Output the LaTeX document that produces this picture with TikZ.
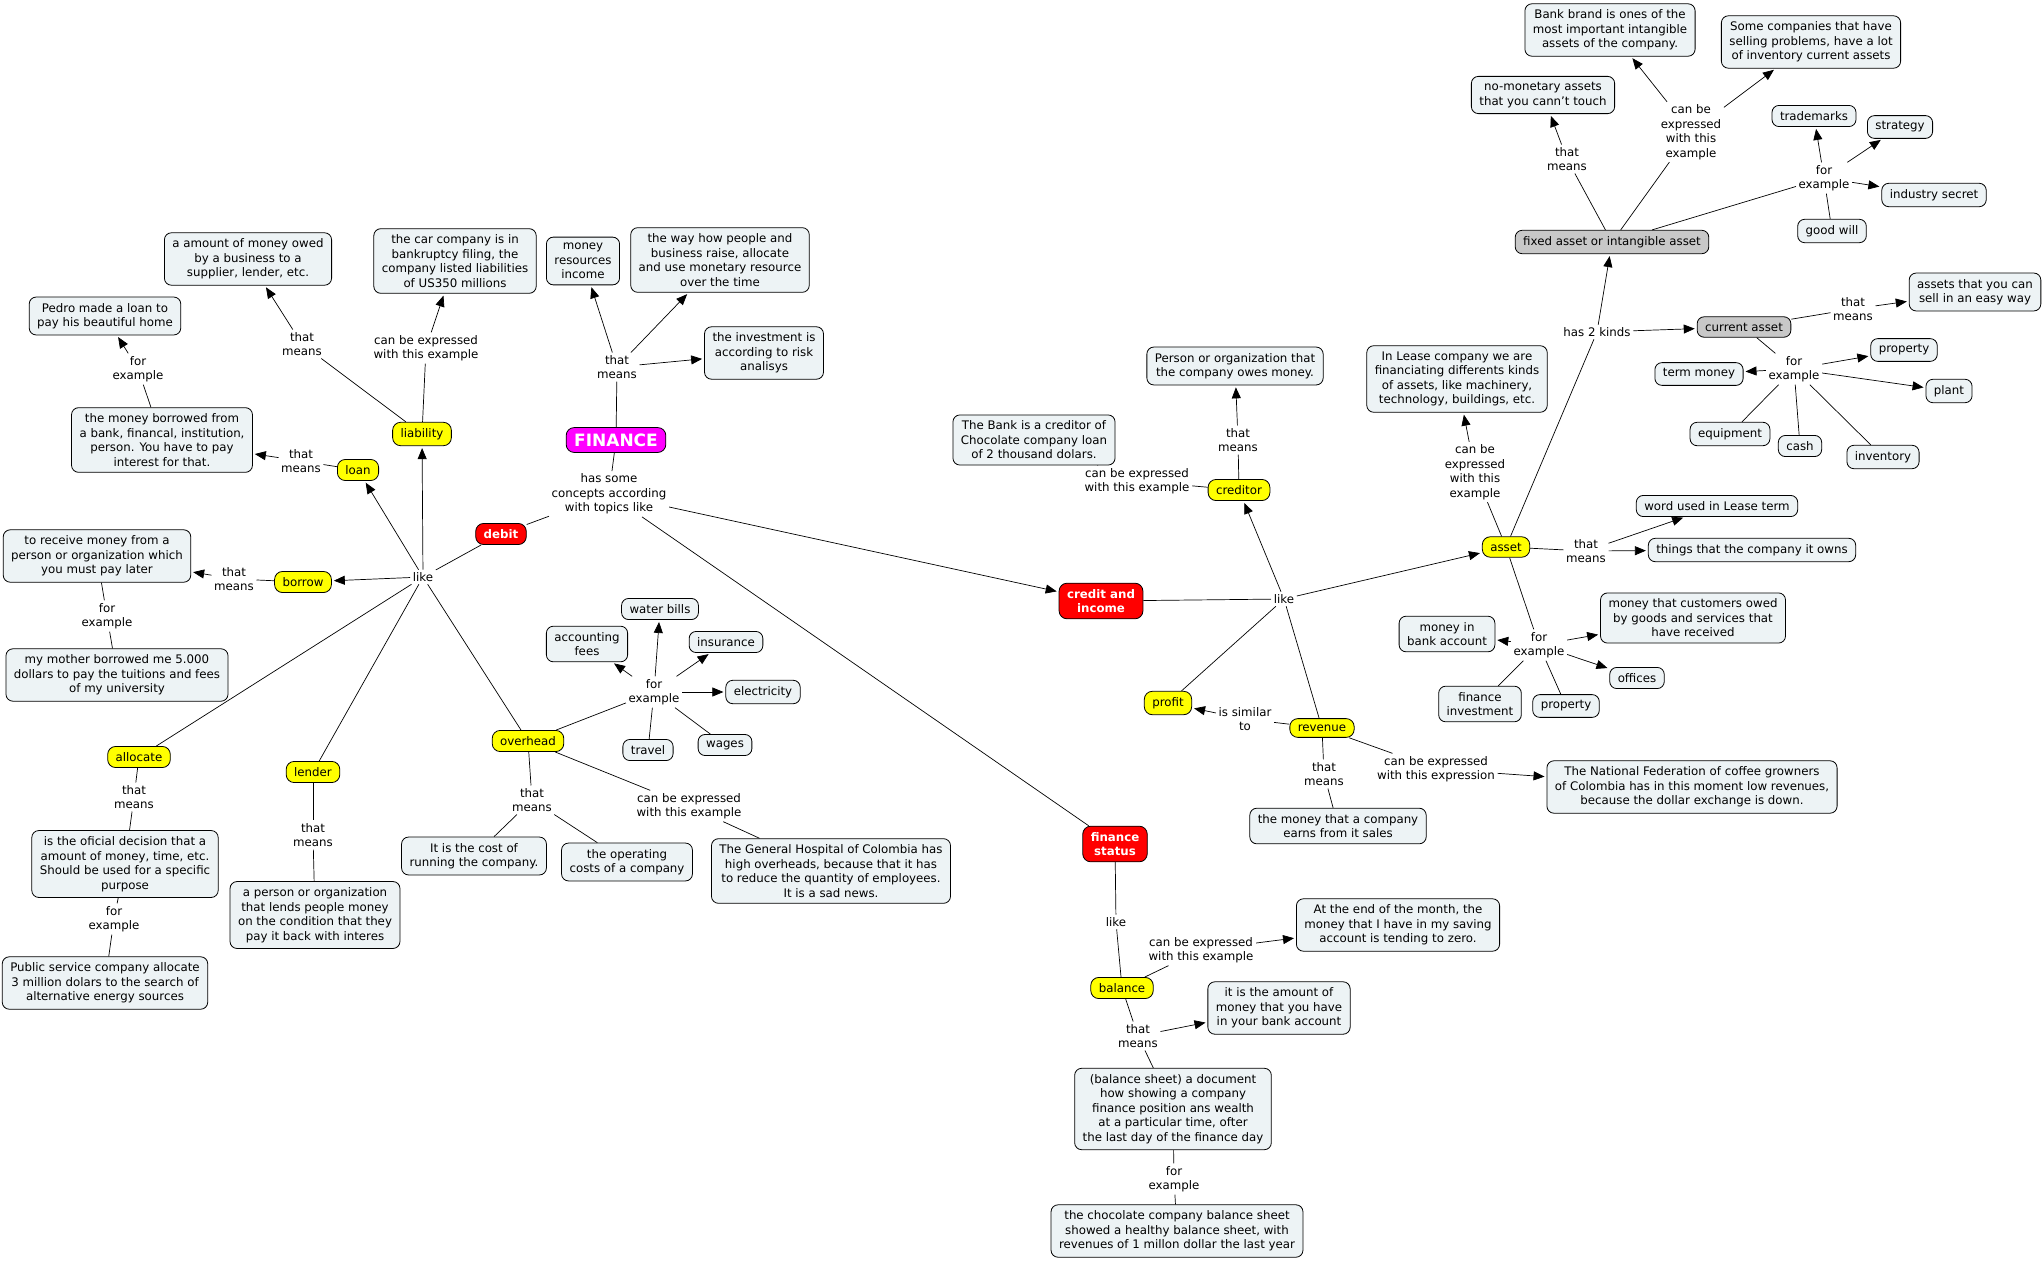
\documentclass[tikz,border=0pt]{standalone}
\usepackage{fontspec}
\setmainfont{DejaVu Sans}
\usetikzlibrary{arrows.meta}
\definecolor{BoxClr}{RGB}{237,243,245}
\definecolor{TopicClr}{RGB}{255,255,0}
\definecolor{MainClr}{RGB}{255,0,0}
\definecolor{RootClr}{RGB}{255,0,255}
\definecolor{KindClr}{RGB}{200,200,200}

\begin{document}
\begin{tikzpicture}[x=1pt,y=-1pt,
  every node/.style={font=\fontsize{11.8}{14.5}\selectfont},
  concept/.style={draw,line width=0.8pt,rounded corners=7pt,fill=BoxClr,align=center,inner xsep=8pt,inner ysep=6pt},
  topic/.style={concept,fill=TopicClr,rounded corners=8pt},
  kind/.style={concept,fill=KindClr},
  mainc/.style={concept,fill=MainClr,text=white,rounded corners=8pt,font=\fontsize{11.8}{14.5}\selectfont\bfseries},
  root/.style={concept,fill=RootClr,text=white,rounded corners=8pt,font=\fontsize{17}{20}\selectfont\bfseries},
  lnk/.style={inner sep=2.5pt,align=center},
  link/.style={line width=0.7pt},
  linkarr/.style={link,-{Triangle[length=11pt,width=9pt]},shorten >=2pt}]
\useasboundingbox (0,0) rectangle (2043,1263);

% finance
\node[root] (finance) at (616,440) {FINANCE};
\node[lnk] (tmFin) at (617,367) {that\\means};
\node[concept] (moneyres) at (583,261) {money\\resources\\income};
\node[concept] (wayhow) at (720,260) {the way how people and\\business raise, allocate\\and use monetary resource\\over the time};
\node[concept] (investment) at (764,353) {the investment is\\according to risk\\analisys};
\node[lnk] (hassome) at (609,494) {has some\\concepts according\\with topics like};

% debit
\node[mainc] (debit) at (501,534) {debit};
\node[lnk] (likeL) at (423,577) {like};
\node[topic] (liability) at (422,434) {liability};
\node[lnk] (tmLiab) at (302,344) {that\\means};
\node[concept] (amount1) at (248,259) {a amount of money owed\\by a business to a\\supplier, lender, etc.};
\node[lnk] (cbeLiab) at (426,348) {can be expressed\\with this example};
\node[concept] (car) at (455,261) {the car company is in\\bankruptcy filing, the\\company listed liabilities\\of US350 millions};
\node[topic] (loan) at (358,470) {loan};
\node[lnk] (tmLoan) at (301,461) {that\\means};
\node[concept] (borrowed) at (162,440) {the money borrowed from\\a bank, financal, institution,\\person. You have to pay\\interest for that.};
\node[lnk] (feBorrowed) at (138,369) {for\\example};
\node[concept] (pedro) at (105,316) {Pedro made a loan to\\pay his beautiful home};
\node[topic] (borrow) at (303,582) {borrow};
\node[lnk] (tmBorrow) at (234,579) {that\\means};
\node[concept] (receive) at (97,556) {to receive money from a\\person or organization which\\you must pay later};
\node[lnk] (feReceive) at (107,616) {for\\example};
\node[concept] (mother) at (117,675) {my mother borrowed me 5.000\\dollars to pay the tuitions and fees\\of my university};
\node[topic] (allocate) at (139,757) {allocate};
\node[lnk] (tmAlloc) at (134,797) {that\\means};
\node[concept] (decision) at (125,864) {is the oficial decision that a\\amount of money, time, etc.\\Should be used for a specific\\purpose};
\node[lnk] (feDecision) at (114,919) {for\\example};
\node[concept] (public) at (105,983) {Public service company allocate\\3 million dolars to the search of\\alternative energy sources};
\node[topic] (lender) at (313,772) {lender};
\node[lnk] (tmLender) at (313,835) {that\\means};
\node[concept] (lends) at (315,915) {a person or organization\\that lends people money\\on the condition that they\\pay it back with interes};
\node[topic] (overhead) at (528,741) {overhead};
\node[lnk] (feOver) at (654,692) {for\\example};
\node[concept] (water) at (660,609) {water bills};
\node[concept] (accounting) at (587,644) {accounting\\fees};
\node[concept] (insurance) at (726,642) {insurance};
\node[concept] (electricity) at (763,692) {electricity};
\node[concept] (travel) at (648,750) {travel};
\node[concept] (wages) at (725,745) {wages};
\node[lnk] (tmOver) at (532,800) {that\\means};
\node[concept] (cost) at (474,856) {It is the cost of\\running the company.};
\node[concept] (operating) at (627,862) {the operating\\costs of a company};
\node[lnk] (cbeOver) at (689,806) {can be expressed\\with this example};
\node[concept] (hospital) at (831,871) {The General Hospital of Colombia has\\high overheads,  because that it  has\\to reduce the quantity of employees.\\It is a sad news.};

% credit and income
\node[mainc] (credit) at (1101,601) {credit and\\income};
\node[lnk] (likeC) at (1284,599) {like};
\node[topic] (creditor) at (1239,490) {creditor};
\node[lnk] (tmCred) at (1238,440) {that\\means};
\node[concept] (owes) at (1235,366) {Person or organization that\\the company owes money.};
\node[lnk] (cbeCred) at (1137,481) {can be expressed\\with this example};
\node[concept] (bankcred) at (1034,440) {The Bank is a creditor of\\Chocolate company loan\\of 2 thousand dolars.};
\node[topic] (profit) at (1168,703) {profit};
\node[topic] (revenue) at (1322,728) {revenue};
\node[lnk] (similar) at (1245,719) {is similar\\to};
\node[lnk] (tmRev) at (1324,774) {that\\means};
\node[concept] (earns) at (1338,826) {the money that a company\\earns from it sales};
\node[lnk] (cbeRev) at (1436,769) {can be expressed\\with this expression};
\node[concept] (national) at (1692,787) {The National Federation of coffee growners\\of Colombia has in this moment low revenues,\\because the dollar exchange is down.};
\node[topic] (asset) at (1506,547) {asset};
\node[lnk] (cbeAsset) at (1475,472) {can be\\expressed\\with this\\example};
\node[concept] (lease) at (1457,379) {In Lease company we are\\financiating differents kinds\\of assets, like machinery,\\technology, buildings, etc.};
\node[lnk] (tmAsset) at (1586,551) {that\\means};
\node[concept] (word) at (1717,506) {word used in Lease term};
\node[concept] (things) at (1752,550) {things that the company it owns};
\node[lnk] (feAsset) at (1539,645) {for\\example};
\node[concept] (bankacc) at (1447,634) {money in\\bank account};
\node[concept] (customers) at (1693,618) {money that customers owed\\by goods and services that\\have received};
\node[concept] (offices) at (1637,678) {offices};
\node[concept] (fininv) at (1480,704) {finance\\investment};
\node[concept] (propertyA) at (1566,706) {property};
\node[lnk] (has2) at (1597,332) {has 2 kinds};

% kinds of asset
\node[kind] (fixed) at (1612,242) {fixed asset or intangible asset};
\node[lnk] (tmFixed) at (1567,159) {that\\means};
\node[concept] (nomon) at (1543,95) {no-monetary assets\\that you cann't touch};
\node[lnk] (cbeFixed) at (1691,132) {can be\\expressed\\with this\\example};
\node[concept] (brand) at (1610,30) {Bank brand is ones of the\\most important intangible\\assets of the company.};
\node[concept] (selling) at (1811,42) {Some companies that have\\selling problems, have a lot\\of inventory current assets};
\node[lnk] (feFixed) at (1824,178) {for\\example};
\node[concept] (trademarks) at (1814,116) {trademarks};
\node[concept] (strategy) at (1900,127) {strategy};
\node[concept] (secret) at (1934,195) {industry secret};
\node[concept] (goodwill) at (1832,231) {good will};
\node[kind] (current) at (1744,327) {current asset};
\node[lnk] (tmCur) at (1853,309) {that\\means};
\node[concept] (easy) at (1975,292) {assets that you can\\sell in an easy way};
\node[lnk] (feCur) at (1794,369) {for\\example};
\node[concept] (termmoney) at (1699,374) {term money};
\node[concept] (propertyC) at (1904,350) {property};
\node[concept] (plant) at (1949,391) {plant};
\node[concept] (equipment) at (1730,434) {equipment};
\node[concept] (cash) at (1800,446) {cash};
\node[concept] (inventory) at (1883,457) {inventory};

% finance status
\node[mainc] (status) at (1115,844) {finance\\status};
\node[lnk] (likeS) at (1116,922) {like};
\node[topic] (balance) at (1122,988) {balance};
\node[lnk] (cbeBal) at (1201,950) {can be expressed\\with this example};
\node[concept] (endmonth) at (1398,925) {At the end of the month, the\\money that I have in my saving\\account is tending to zero.};
\node[lnk] (tmBal) at (1138,1036) {that\\means};
\node[concept] (amount2) at (1279,1008) {it is the amount of\\money that you have\\in your bank account};
\node[concept] (sheet) at (1173,1109) {(balance sheet) a document\\how showing a company\\finance position ans wealth\\at a particular time, ofter\\the last day of the finance day};
\node[lnk] (feSheet) at (1174,1179) {for\\example};
\node[concept] (chocolate) at (1177,1231) {the chocolate company balance sheet\\showed a healthy balance sheet, with\\revenues of 1 millon dollar the last year};

% connectors
\draw[link] (finance) -- (tmFin);
\foreach \t in {moneyres,wayhow,investment} \draw[linkarr] (tmFin) -- (\t);
\draw[link] (finance) -- (hassome);
\draw[link] (hassome) -- (debit);
\draw[link] (hassome) -- (status);
\draw[linkarr] (hassome) -- (credit);

\draw[link] (debit) -- (likeL);
\foreach \t in {liability,loan,borrow} \draw[linkarr] (likeL) -- (\t);
\foreach \t in {allocate,lender,overhead} \draw[link] (likeL) -- (\t);
\draw[link] (liability) -- (tmLiab);
\draw[linkarr] (tmLiab) -- (amount1);
\draw[link] (liability) -- (cbeLiab);
\draw[linkarr] (cbeLiab) -- (car);
\draw[link] (loan) -- (tmLoan);
\draw[linkarr] (tmLoan) -- (borrowed);
\draw[link] (borrowed) -- (feBorrowed);
\draw[linkarr] (feBorrowed) -- (pedro);
\draw[link] (borrow) -- (tmBorrow);
\draw[linkarr] (tmBorrow) -- (receive);
\draw[link] (receive) -- (feReceive);
\draw[link] (feReceive) -- (mother);
\draw[link] (allocate) -- (tmAlloc);
\draw[link] (tmAlloc) -- (decision);
\draw[link] (decision) -- (feDecision);
\draw[link] (feDecision) -- (public);
\draw[link] (lender) -- (tmLender);
\draw[link] (tmLender) -- (lends);
\draw[link] (overhead) -- (feOver);
\foreach \t in {water,accounting,insurance,electricity} \draw[linkarr] (feOver) -- (\t);
\foreach \t in {travel,wages} \draw[link] (feOver) -- (\t);
\draw[link] (overhead) -- (tmOver);
\draw[link] (tmOver) -- (cost);
\draw[link] (tmOver) -- (operating);
\draw[link] (overhead) -- (cbeOver);
\draw[link] (cbeOver) -- (hospital);

\draw[link] (credit) -- (likeC);
\foreach \t in {creditor,asset} \draw[linkarr] (likeC) -- (\t);
\foreach \t in {profit,revenue} \draw[link] (likeC) -- (\t);
\draw[link] (creditor) -- (tmCred);
\draw[linkarr] (tmCred) -- (owes);
\draw[link] (creditor) -- (cbeCred);
\draw[link] (cbeCred) -- (bankcred);
\draw[link] (revenue) -- (similar);
\draw[linkarr] (similar) -- (profit);
\draw[link] (revenue) -- (tmRev);
\draw[link] (tmRev) -- (earns);
\draw[link] (revenue) -- (cbeRev);
\draw[linkarr] (cbeRev) -- (national);
\draw[link] (asset) -- (cbeAsset);
\draw[linkarr] (cbeAsset) -- (lease);
\draw[link] (asset) -- (has2);
\foreach \t in {fixed,current} \draw[linkarr] (has2) -- (\t);
\draw[link] (asset) -- (tmAsset);
\foreach \t in {word,things} \draw[linkarr] (tmAsset) -- (\t);
\draw[link] (asset) -- (feAsset);
\foreach \t in {bankacc,customers,offices} \draw[linkarr] (feAsset) -- (\t);
\foreach \t in {fininv,propertyA} \draw[link] (feAsset) -- (\t);

\draw[link] (fixed) -- (tmFixed);
\draw[linkarr] (tmFixed) -- (nomon);
\draw[link] (fixed) -- (cbeFixed);
\foreach \t in {brand,selling} \draw[linkarr] (cbeFixed) -- (\t);
\draw[link] (fixed) -- (feFixed);
\foreach \t in {trademarks,strategy,secret} \draw[linkarr] (feFixed) -- (\t);
\draw[link] (feFixed) -- (goodwill);
\draw[link] (current) -- (tmCur);
\draw[linkarr] (tmCur) -- (easy);
\draw[link] (current) -- (feCur);
\foreach \t in {termmoney,propertyC,plant} \draw[linkarr] (feCur) -- (\t);
\foreach \t in {equipment,cash,inventory} \draw[link] (feCur) -- (\t);

\draw[link] (status) -- (likeS);
\draw[link] (likeS) -- (balance);
\draw[link] (balance) -- (cbeBal);
\draw[linkarr] (cbeBal) -- (endmonth);
\draw[link] (balance) -- (tmBal);
\draw[linkarr] (tmBal) -- (amount2);
\draw[link] (tmBal) -- (sheet);
\draw[link] (sheet) -- (feSheet);
\draw[link] (feSheet) -- (chocolate);
\end{tikzpicture}
\end{document}
